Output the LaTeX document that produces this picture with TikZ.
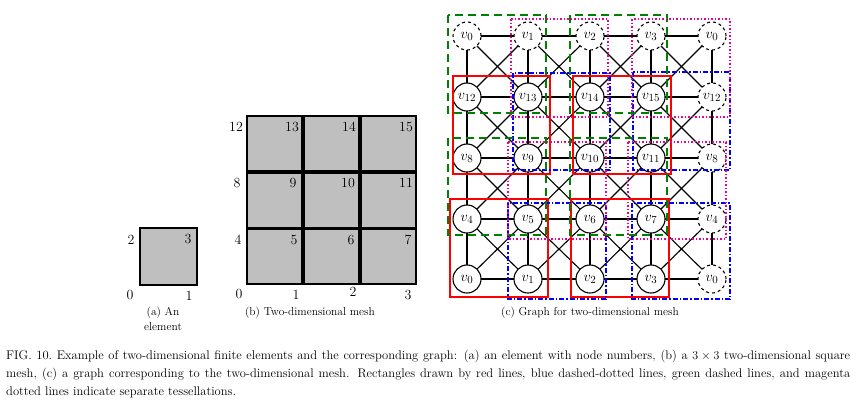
\documentclass[tikz,border=0pt]{standalone}
\begin{document}
\begin{tikzpicture}[x=1bp,y=-1bp,
  cell/.style={draw,line width=1.8bp,fill=black!25},
  lab/.style={font=\fontsize{14}{16}\selectfont,inner sep=0pt},
  vtx/.style={circle,draw,line width=1.1bp,fill=white,minimum size=28bp,inner sep=0pt,font=\fontsize{15}{16}\selectfont},
  ghost/.style={vtx,dashed},
  edge/.style={line width=1.1bp},
  redr/.style={draw=red,line width=1.1bp},
  bluer/.style={draw=blue,line width=1.1bp,dash pattern=on 5bp off 2bp on 1.5bp off 2bp},
  greenr/.style={draw=green!50!black,line width=1.3bp,dash pattern=on 8bp off 5bp},
  magr/.style={draw=magenta,line width=1.3bp,dash pattern=on 1.5bp off 2bp},
  captxt/.style={font=\fontsize{11.5}{13}\selectfont,inner sep=0pt}]
\useasboundingbox (0,0) rectangle (858,414);
% (a) element
\draw[cell] (140,228) rectangle (197,285);
\node[lab] (a2) at (131,240) {2};
\node[lab] (a3) at (188,239) {3};
\node[lab] (a0) at (130,295) {0};
\node[lab] (a1) at (189,296) {1};
\node[captxt] (capa1) at (163,313) {(a) An};
\node[captxt] (capa2) at (163,327) {element};
% (b) mesh
\foreach \i/\x in {0/247,1/304,2/361}{
  \foreach \j/\y in {0/116,1/173,2/229}{
    \draw[cell] (\x,\y) rectangle ++(55,55);
  }
}
\foreach \n/\x/\y in {13/292/127,14/349/127,15/406/127,9/293/183,10/348/183,11/406/183,5/294/240,6/351/240,7/408/240}
  \node[lab] (m\n) at (\x,\y) {\n};
\node[lab] (m12) at (236,127) {12};
\node[lab] (m8) at (237,183) {8};
\node[lab] (m4) at (238,240) {4};
\node[lab] (m0) at (239,294) {0};
\node[lab] (m1) at (296,295) {1};
\node[lab] (m2) at (353,292) {2};
\node[lab] (m3) at (408,295) {3};
\node[captxt] (capb) at (310,313) {(b) Two-dimensional mesh};
% (c) graph
\foreach \r/\y in {0/36,1/97,2/158,3/219,4/279}{
  \coordinate (p\r0) at (467,\y);
  \coordinate (p\r1) at (528,\y);
  \coordinate (p\r2) at (590,\y);
  \coordinate (p\r3) at (651,\y);
  \coordinate (p\r4) at (712,\y);
}
% edges
\foreach \r in {0,...,4}{
  \foreach \c [evaluate=\c as \cn using int(\c+1)] in {0,...,3}{
    \draw[edge] (p\r\c) -- (p\r\cn);
  }
}
\foreach \r [evaluate=\r as \rn using int(\r+1)] in {0,...,3}{
  \foreach \c in {0,...,4}{
    \draw[edge] (p\r\c) -- (p\rn\c);
  }
  \foreach \c [evaluate=\c as \cn using int(\c+1)] in {0,...,3}{
    \draw[edge] (p\r\c) -- (p\rn\cn);
    \draw[edge] (p\r\cn) -- (p\rn\c);
  }
}
% vertices
\foreach \r/\a/\b/\c/\d in {0/0/1/2/3,1/12/13/14/15,2/8/9/10/11,3/4/5/6/7,4/0/1/2/3}{
  \ifnum\r=0
    \node[ghost] (v\r0) at (p\r0) {$v_{\a}$};
    \node[ghost] (v\r1) at (p\r1) {$v_{\b}$};
    \node[ghost] (v\r2) at (p\r2) {$v_{\c}$};
    \node[ghost] (v\r3) at (p\r3) {$v_{\d}$};
  \else
    \node[vtx] (v\r0) at (p\r0) {$v_{\a}$};
    \node[vtx] (v\r1) at (p\r1) {$v_{\b}$};
    \node[vtx] (v\r2) at (p\r2) {$v_{\c}$};
    \node[vtx] (v\r3) at (p\r3) {$v_{\d}$};
  \fi
  \node[ghost] (v\r4) at (p\r4) {$v_{\a}$};
}
% tessellations
\draw[redr] (453,76) rectangle (550,174);
\draw[redr] (573,76) rectangle (671,174);
\draw[redr] (450,199) rectangle (548,297);
\draw[redr] (571,199) rectangle (669,297);
\draw[bluer] (513,73) rectangle (610,170);
\draw[bluer] (633,72) rectangle (730,170);
\draw[bluer] (508,203) rectangle (606,299);
\draw[bluer] (632,203) rectangle (730,299);
\draw[greenr] (448,15) rectangle (546,113);
\draw[greenr] (570,15) rectangle (667,113);
\draw[greenr] (448,138) rectangle (546,235);
\draw[greenr] (570,138) rectangle (667,235);
\draw[magr] (511,19) rectangle (608,117);
\draw[magr] (632,19) rectangle (730,117);
\draw[magr] (508,142) rectangle (606,239);
\draw[magr] (628,142) rectangle (726,239);
\node[captxt] (capc) at (590,313) {(c) Graph for two-dimensional mesh};
% figure caption
\node[anchor=north west,inner sep=0pt,text width=844bp,align=justify,font=\fontsize{12.6}{18}\selectfont] (fig) at (6,350)
{FIG. 10.\ Example of two-dimensional finite elements and the corresponding graph: (a) an element with node numbers, (b) a $3\times3$ two-dimensional square mesh, (c) a graph corresponding to the two-dimensional mesh. Rectangles drawn by red lines, blue dashed-dotted lines, green dashed lines, and magenta dotted lines indicate separate tessellations.};
\end{tikzpicture}
\end{document}
